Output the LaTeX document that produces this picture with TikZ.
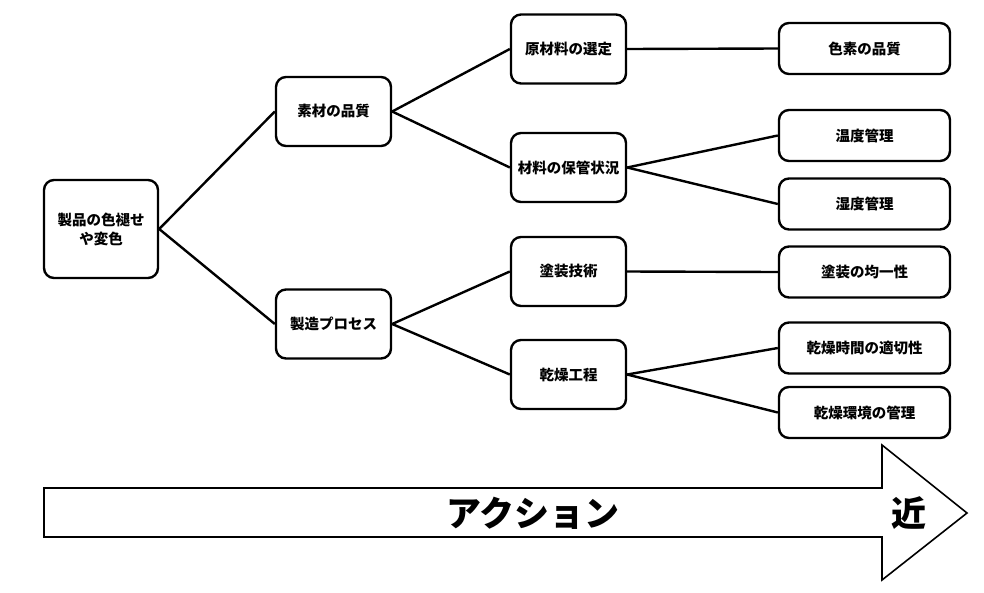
\documentclass[tikz,border=0pt]{standalone}
\usepackage{fontspec}
\setmainfont{Noto Sans CJK JP}
\begin{document}
\begin{tikzpicture}[x=1pt,y=-1pt,
  box/.style={draw=black,line width=2.4pt,rounded corners=10pt,fill=white,
    inner sep=0pt,font=\fontsize{14.5}{19}\selectfont\bfseries,align=center},
  midbox/.style={box,minimum width=115pt,minimum height=69pt},
  leafbox/.style={box,minimum width=171pt,minimum height=51pt},
  link/.style={draw=black,line width=2.4pt},
  bigtext/.style={font=\fontsize{35}{40}\selectfont\bfseries,inner sep=0pt}]
\useasboundingbox (0,0) rectangle (984,592);
% arrow
\draw[line width=1.6pt,line join=miter] (44,488) -- (882,488) -- (882,445) -- (967,513) -- (882,580) -- (882,537) -- (44,537) -- cycle;
\node[bigtext] (act) at (533,513) {アクション};
\node[bigtext] (near) at (909,513) {近};
% nodes
\node[box,minimum width=114pt,minimum height=98pt] (root) at (101,229) {製品の色褪せ\\や変色};
\node[midbox] (a) at (333.5,111.5) {素材の品質};
\node[midbox] (b) at (333.5,324) {製造プロセス};
\node[midbox] (a1) at (568.5,49) {原材料の選定};
\node[midbox] (a2) at (568.5,167.5) {材料の保管状況};
\node[midbox] (b1) at (568.5,271.5) {塗装技術};
\node[midbox] (b2) at (568.5,374.5) {乾燥工程};
\node[leafbox] (l1) at (864.5,48.5) {色素の品質};
\node[leafbox] (l2) at (864.5,135.5) {温度管理};
\node[leafbox] (l3) at (864.5,204) {湿度管理};
\node[leafbox] (l4) at (864.5,272) {塗装の均一性};
\node[leafbox] (l5) at (864.5,348) {乾燥時間の適切性};
\node[leafbox] (l6) at (864.5,412.5) {乾燥環境の管理};
% connectors
\draw[link] (root.east) -- (a.west);
\draw[link] (root.east) -- (b.west);
\draw[link] (a.east) -- (a1.west);
\draw[link] (a.east) -- (a2.west);
\draw[link] (b.east) -- (b1.west);
\draw[link] (b.east) -- (b2.west);
\draw[link] (a1.east) -- (l1.west);
\draw[link] (a2.east) -- (l2.west);
\draw[link] (a2.east) -- (l3.west);
\draw[link] (b1.east) -- (l4.west);
\draw[link] (b2.east) -- (l5.west);
\draw[link] (b2.east) -- (l6.west);
\end{tikzpicture}
\end{document}
